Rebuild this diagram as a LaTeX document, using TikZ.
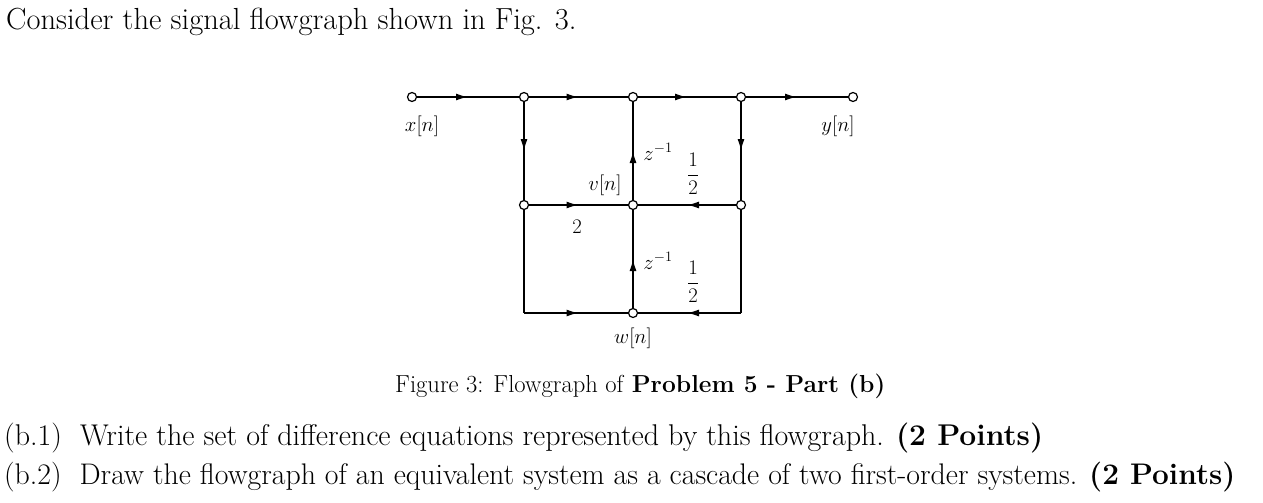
\documentclass[tikz,border=0pt]{standalone}
\usetikzlibrary{decorations.markings,arrows.meta}
\begin{document}
\begin{tikzpicture}[x=1pt,y=-1pt,
  nd/.style={circle,draw,fill=white,inner sep=0pt,minimum size=9pt,line width=1.2pt},
  br/.style={line width=1.6pt,postaction={decorate},decoration={markings,mark=at position 0.5 with {\arrow{Latex[length=12pt,width=7pt]}}}},
  pl/.style={line width=1.6pt},
  lab/.style={font=\fontsize{22}{26}\selectfont},
  txt/.style={anchor=west,inner sep=0pt,font=\fontsize{30.5}{36}\selectfont}]
\useasboundingbox (0,0) rectangle (1263,503);
\node[txt] (t0) at (6,22) {Consider the signal flowgraph shown in Fig. 3.};
\node[txt,font=\fontsize{24.6}{29}\selectfont] (cap) at (395,386) {Figure 3: Flowgraph of \textbf{Problem 5 - Part (b)}};
\node[txt,font=\fontsize{30}{36}\selectfont] (b1) at (4,438) {(b.1)\ \ Write the set of difference equations represented by this flowgraph. \textbf{(2 Points)}};
\node[txt,font=\fontsize{29.8}{36}\selectfont] (b2) at (4,477) {(b.2)\ \ Draw the flowgraph of an equivalent system as a cascade of two first-order systems. \textbf{(2 Points)}};
\coordinate (BL) at (524,313);
\coordinate (BR) at (741,313);
\draw[br] (412,97) -- (524,97);
\draw[br] (524,97) -- (633,97);
\draw[br] (633,97) -- (741,97);
\draw[br] (741,97) -- (853,97);
\draw[br] (524,97) -- (524,205);
\draw[br] (741,97) -- (741,205);
\draw[br] (524,205) -- (633,205);
\draw[br] (741,205) -- (633,205);
\draw[br] (633,205) -- (633,97);
\draw[br] (633,313) -- (633,205);
\draw[pl] (524,205) -- (BL);
\draw[pl] (741,205) -- (BR);
\draw[br] (BL) -- (633,313);
\draw[br] (BR) -- (633,313);
\node[nd] (x) at (412,97) {};
\node[nd] (a) at (524,97) {};
\node[nd] (b) at (633,97) {};
\node[nd] (c) at (741,97) {};
\node[nd] (y) at (853,97) {};
\node[nd] (d) at (524,205) {};
\node[nd] (v) at (633,205) {};
\node[nd] (e) at (741,205) {};
\node[nd] (w) at (633,313) {};
\node[lab] (lx) at (422,126) {$x[n]$};
\node[lab] (ly) at (838,126) {$y[n]$};
\node[lab] (lv) at (605,185) {$v[n]$};
\node[lab] (lw) at (633,338) {$w[n]$};
\node[lab] (l2) at (577,227) {$2$};
\node[lab] (z1) at (658,152) {$z^{-1}$};
\node[lab] (z2) at (658,261) {$z^{-1}$};
\node[lab] (h1) at (693,174) {$\displaystyle\frac12$};
\node[lab] (h2) at (693,282) {$\displaystyle\frac12$};
\end{tikzpicture}
\end{document}
